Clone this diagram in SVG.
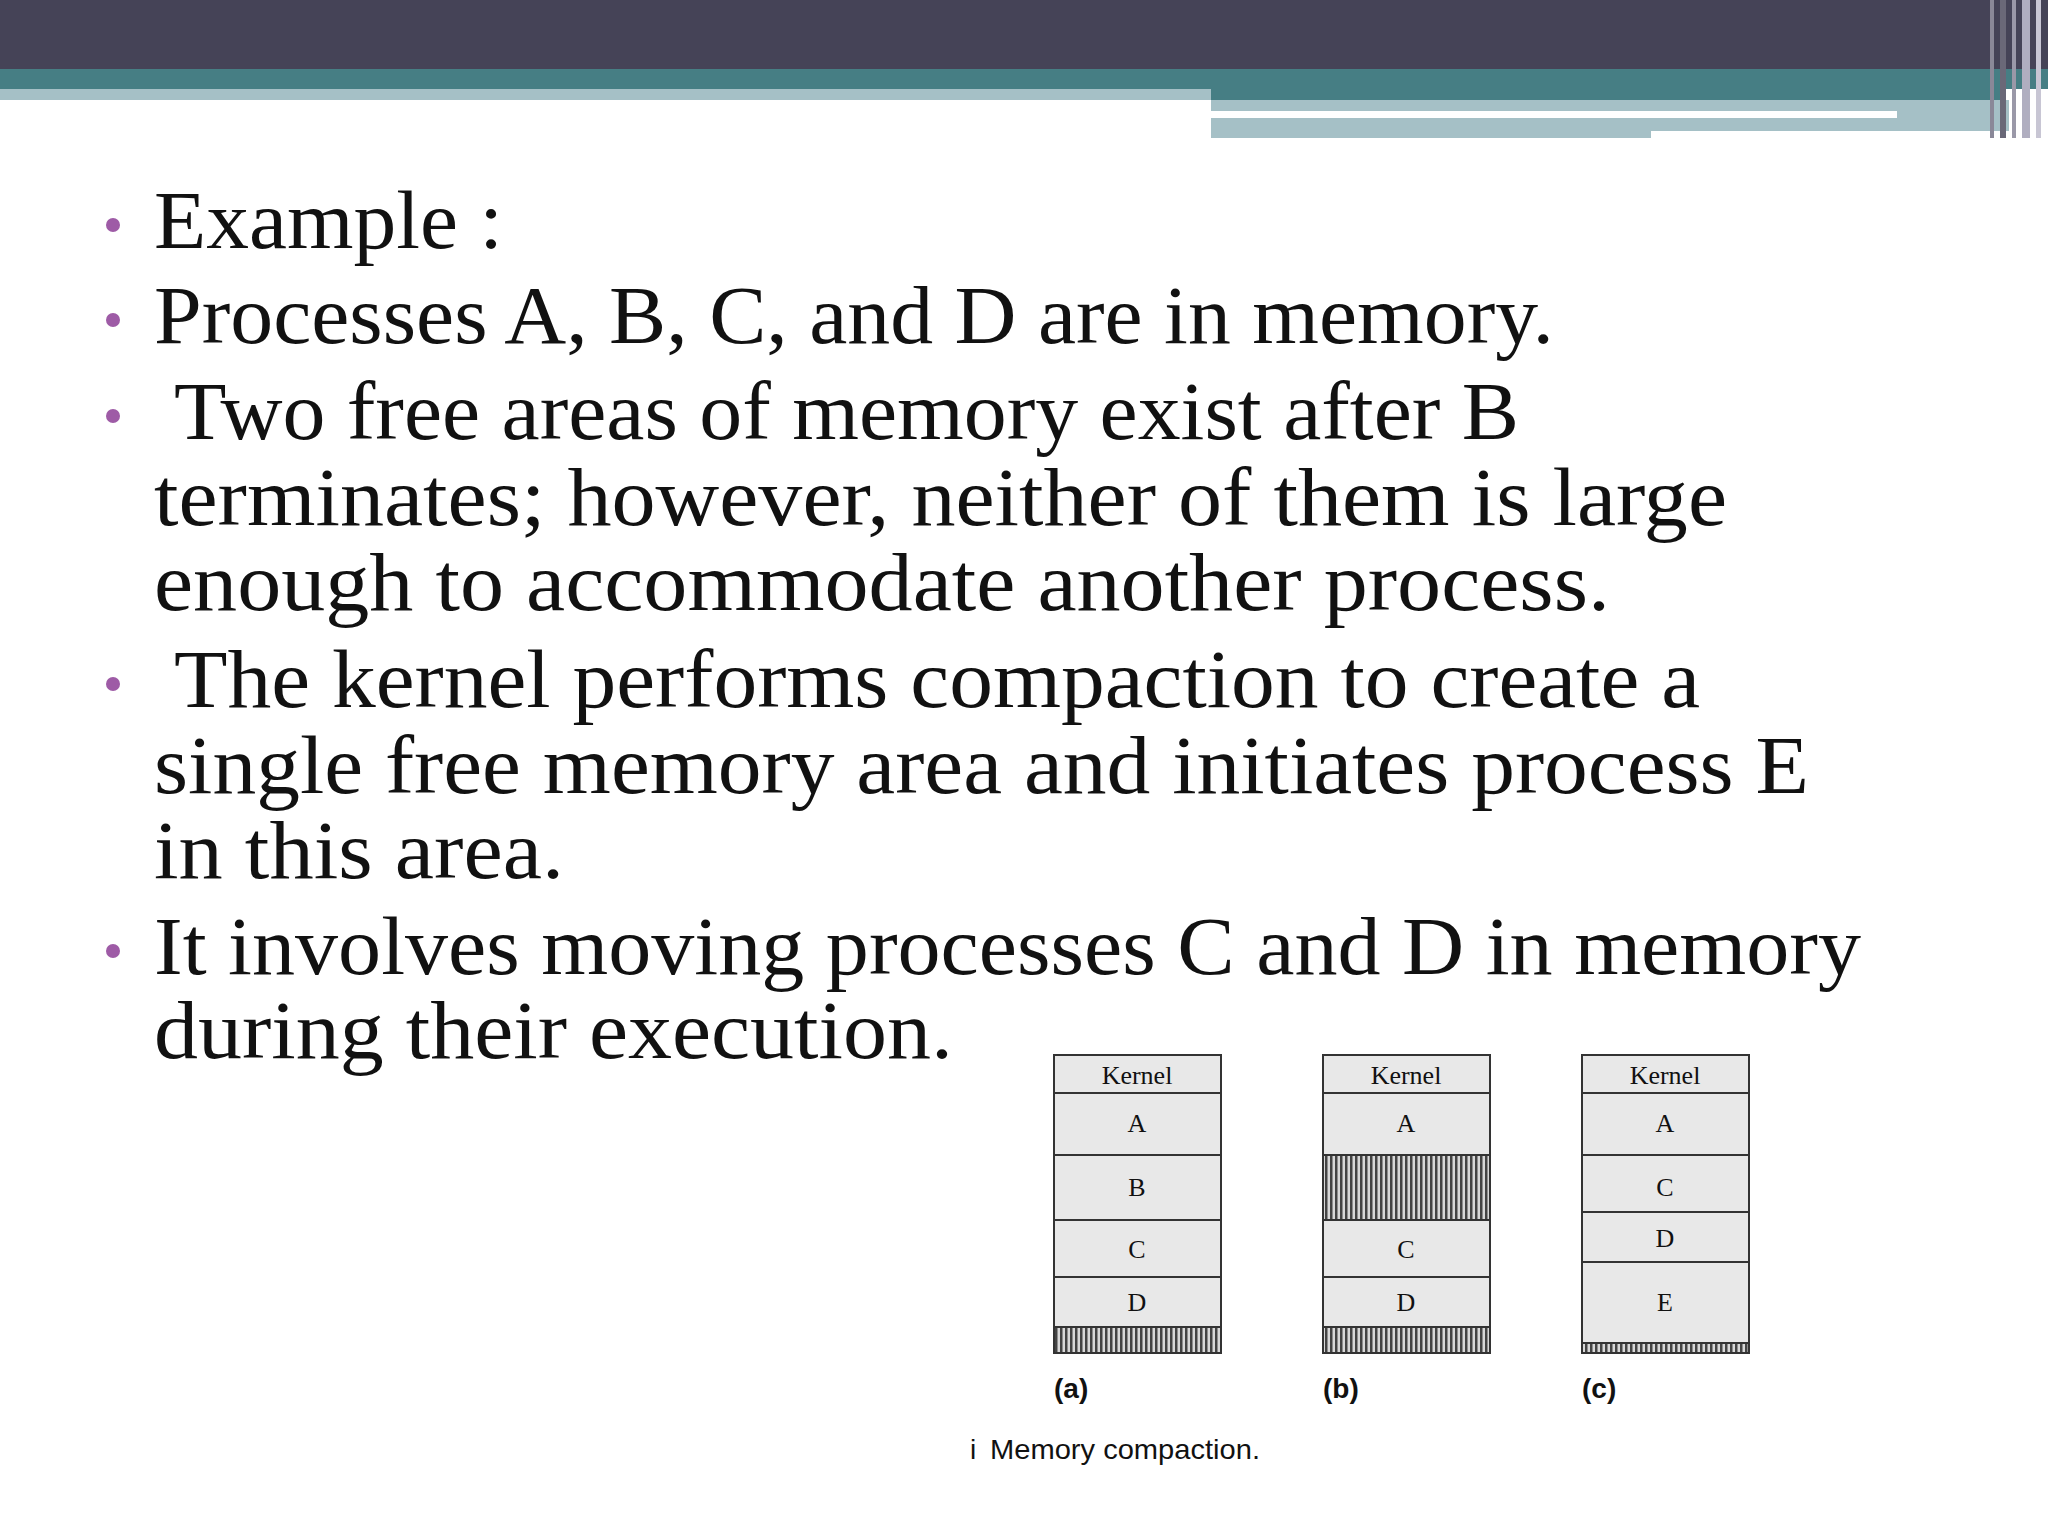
<svg xmlns="http://www.w3.org/2000/svg" width="2048" height="1536" viewBox="0 0 2048 1536">
<defs>
<pattern id="hatch" width="5" height="10" patternUnits="userSpaceOnUse"><rect width="5" height="10" fill="#d8d8d8"/><rect width="2.5" height="10" fill="#444"/></pattern>
</defs>
<style>
.t{font-family:"Liberation Serif","DejaVu Serif",serif;font-size:82px;fill:#111}
.b{fill:#9e5ba6}
.cell{fill:#e8e8e8;stroke:#333;stroke-width:2}
.h{fill:url(#hatch);stroke:#333;stroke-width:2}
.l{font-family:"Liberation Serif",serif;font-size:26px;fill:#111;text-anchor:middle}
.c{font-family:"Liberation Sans",Arial,sans-serif;font-size:28px;fill:#111}
</style>
<rect width="2048" height="1536" fill="#fff"/>
<g id="header">
<rect x="0" y="0" width="2048" height="69" fill="#454357"/>
<rect x="0" y="69" width="2048" height="20" fill="#467e84"/>
<rect x="0" y="89" width="1211" height="11" fill="#a5c0c6"/>
<rect x="1211" y="89" width="790" height="11" fill="#467e84"/>
<rect x="1211" y="100" width="798" height="38" fill="#a5c0c6"/>
<rect x="1211" y="111" width="686" height="7" fill="#fff"/>
<rect x="1651" y="131" width="360" height="7" fill="#fff"/>
<rect x="1990" y="0" width="4" height="138" fill="#8a8898"/>
<rect x="2000" y="0" width="6" height="138" fill="#6a6878"/>
<rect x="2012" y="0" width="4" height="138" fill="#9a98a8"/>
<rect x="2022" y="0" width="8" height="138" fill="#b0aec0"/>
<rect x="2036" y="0" width="5" height="138" fill="#c8c6d4"/>
</g>
<g id="bullets">
<circle class="b" cx="113" cy="225" r="7"/>
<circle class="b" cx="113" cy="320" r="7"/>
<circle class="b" cx="113" cy="416" r="7"/>
<circle class="b" cx="113" cy="684" r="7"/>
<circle class="b" cx="113" cy="951" r="7"/>
</g>
<g id="text">
<text class="t" x="154" y="248" textLength="349" lengthAdjust="spacingAndGlyphs">Example :</text>
<text class="t" x="154" y="343" textLength="1400" lengthAdjust="spacingAndGlyphs">Processes A, B, C, and D are in memory.</text>
<text class="t" x="174" y="439" textLength="1345" lengthAdjust="spacingAndGlyphs">Two free areas of memory exist after B</text>
<text class="t" x="154" y="525" textLength="1573" lengthAdjust="spacingAndGlyphs">terminates; however, neither of them is large</text>
<text class="t" x="154" y="610" textLength="1456" lengthAdjust="spacingAndGlyphs">enough to accommodate another process.</text>
<text class="t" x="174" y="707" textLength="1526" lengthAdjust="spacingAndGlyphs">The kernel performs compaction to create a</text>
<text class="t" x="154" y="793" textLength="1655" lengthAdjust="spacingAndGlyphs">single free memory area and initiates process E</text>
<text class="t" x="154" y="878" textLength="410" lengthAdjust="spacingAndGlyphs">in this area.</text>
<text class="t" x="154" y="974" textLength="1707" lengthAdjust="spacingAndGlyphs">It involves moving processes C and D in memory</text>
<text class="t" x="154" y="1058" textLength="799" lengthAdjust="spacingAndGlyphs">during their execution.</text>
</g>
<g id="col-a">
<rect class="cell" x="1054" y="1055" width="167" height="38"/>
<rect class="cell" x="1054" y="1093" width="167" height="62"/>
<rect class="cell" x="1054" y="1155" width="167" height="65"/>
<rect class="cell" x="1054" y="1220" width="167" height="57"/>
<rect class="cell" x="1054" y="1277" width="167" height="50"/>
<rect class="h" x="1054" y="1327" width="167" height="26"/>
<text class="l" x="1137" y="1084">Kernel</text>
<text class="l" x="1137" y="1132">A</text>
<text class="l" x="1137" y="1196">B</text>
<text class="l" x="1137" y="1258">C</text>
<text class="l" x="1137" y="1311">D</text>
<text class="c" x="1054" y="1398" font-weight="bold">(a)</text>
</g>
<g id="col-b">
<rect class="cell" x="1323" y="1055" width="167" height="38"/>
<rect class="cell" x="1323" y="1093" width="167" height="62"/>
<rect class="h" x="1323" y="1155" width="167" height="65"/>
<rect class="cell" x="1323" y="1220" width="167" height="57"/>
<rect class="cell" x="1323" y="1277" width="167" height="50"/>
<rect class="h" x="1323" y="1327" width="167" height="26"/>
<text class="l" x="1406" y="1084">Kernel</text>
<text class="l" x="1406" y="1132">A</text>
<text class="l" x="1406" y="1258">C</text>
<text class="l" x="1406" y="1311">D</text>
<text class="c" x="1323" y="1398" font-weight="bold">(b)</text>
</g>
<g id="col-c">
<rect class="cell" x="1582" y="1055" width="167" height="38"/>
<rect class="cell" x="1582" y="1093" width="167" height="62"/>
<rect class="cell" x="1582" y="1155" width="167" height="57"/>
<rect class="cell" x="1582" y="1212" width="167" height="50"/>
<rect class="cell" x="1582" y="1262" width="167" height="81"/>
<rect class="h" x="1582" y="1343" width="167" height="10"/>
<text class="l" x="1665" y="1084">Kernel</text>
<text class="l" x="1665" y="1132">A</text>
<text class="l" x="1665" y="1196">C</text>
<text class="l" x="1665" y="1247">D</text>
<text class="l" x="1665" y="1311">E</text>
<text class="c" x="1582" y="1398" font-weight="bold">(c)</text>
</g>
<g id="caption">
<text class="c" x="970" y="1459" font-size="18" fill="#999">i</text>
<text class="c" x="990" y="1459" textLength="270" lengthAdjust="spacingAndGlyphs">Memory compaction.</text>
</g>
</svg>
